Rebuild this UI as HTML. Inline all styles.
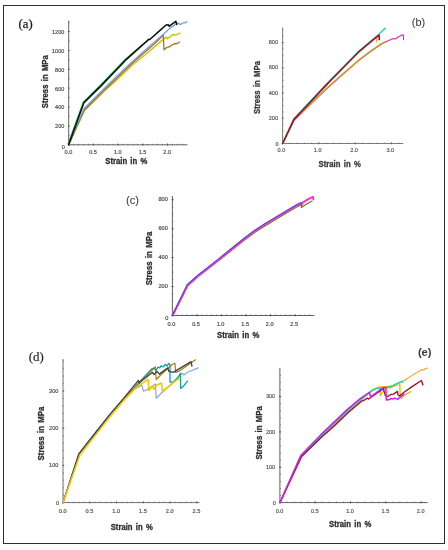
<!DOCTYPE html>
<html><head><meta charset="utf-8"><title>Stress-strain curves</title>
<style>
html,body{margin:0;padding:0;background:#fff;}
body{width:448px;height:550px;overflow:hidden;position:relative;}
.frame{position:absolute;left:3px;top:5px;width:440px;height:537px;border:1px solid #2e2e2e;}
svg{position:absolute;left:0;top:0;}
svg text{font-family:"Liberation Sans", sans-serif;}
svg text.lab{font-family:"Liberation Serif", serif;}
</style></head><body>
<div class="frame"></div>
<svg width="448" height="550" viewBox="0 0 448 550">
<g>
<path d="M68.7 20.7V144.8H187.5" fill="none" stroke="#3a3a3a" stroke-width="0.8"/>
<path d="M68.7 135.36h1.0M68.7 116.48h1.0M68.7 97.6h1.0M68.7 78.72h1.0M68.7 59.84h1.0M68.7 40.96h1.0M68.7 22.08h1.0M67.8 144.8h2.2M67.8 125.92h2.2M67.8 107.04h2.2M67.8 88.16h2.2M67.8 69.28h2.2M67.8 50.4h2.2M67.8 31.52h2.2M73.64 144.8v-1.0M78.58 144.8v-1.0M83.52 144.8v-1.0M88.46 144.8v-1.0M93.4 144.8v-1.0M98.34 144.8v-1.0M103.28 144.8v-1.0M108.22 144.8v-1.0M113.16 144.8v-1.0M118.1 144.8v-1.0M123.04 144.8v-1.0M127.98 144.8v-1.0M132.92 144.8v-1.0M137.86 144.8v-1.0M142.8 144.8v-1.0M147.74 144.8v-1.0M152.68 144.8v-1.0M157.62 144.8v-1.0M162.56 144.8v-1.0M167.5 144.8v-1.0M172.44 144.8v-1.0M177.38 144.8v-1.0M182.32 144.8v-1.0M68.7 145.7v-2.2M93.4 145.7v-2.2M118.1 145.7v-2.2M142.8 145.7v-2.2M167.5 145.7v-2.2" fill="none" stroke="#3a3a3a" stroke-width="0.6"/>
<polyline points="68.7,144.8 84.4,110.8 105,90.4 115,81.5 132.4,65 145.8,54.2 155,46.4 163.4,39.1 166.4,37.1 167.4,38.8 173.4,34.4 175.5,35.1 180,33.1" fill="none" stroke="#c8c400" stroke-width="1.4" stroke-linejoin="round" stroke-linecap="round"/>
<polyline points="68.7,144.8 84.2,110 105,89.2 115,79.7 130,65.2 147,50.2 155,43.4 163.3,35.3 164,49.8 166.7,47.5 170,46.6 171,45.6 172.8,44.5 175.3,43.6 176.5,43.8 178.8,42.5 179.5,42" fill="none" stroke="#a8641a" stroke-width="1.2" stroke-linejoin="round" stroke-linecap="round"/>
<polyline points="68.7,144.8 84,108.5 105,87.6 115,78 128,65.4 147,48.4 155,41.6 163.4,34.3 170.1,28.1 176.8,23.4 178.5,23.2 180,24.6 183.9,22.5 185,22.9 187,21.7" fill="none" stroke="#7aa0dc" stroke-width="1.3" stroke-linejoin="round" stroke-linecap="round"/>
<polyline points="68.1,144.25 83.2,102.35 101.2,84.55 125,59.65 142,44.9" fill="none" stroke="#10a848" stroke-width="1.3" stroke-linejoin="round" stroke-linecap="round"/>
<polyline points="68.7,144.8 83.8,102.9 101.8,85.1 125.6,60.2 148.75,39.3 149.8,39.5 160,30.4 166.1,25 168.4,24.7 169.1,26.3 173,23.4 175.8,21.3 176.8,24.4" fill="none" stroke="#101010" stroke-width="1.55" stroke-linejoin="round" stroke-linecap="round"/>
<g font-size="5.5" fill="#4a4a4a" stroke="#4a4a4a" stroke-width="0.18">
<text x="64.9" y="149.1" text-anchor="end">0</text>
<text x="64.3" y="128.32" text-anchor="end">200</text>
<text x="64.3" y="109.44" text-anchor="end">400</text>
<text x="64.3" y="90.56" text-anchor="end">600</text>
<text x="64.3" y="71.68" text-anchor="end">800</text>
<text x="64.3" y="52.8" text-anchor="end">1000</text>
<text x="64.3" y="33.92" text-anchor="end">1200</text>
<text x="68.4" y="153.8" text-anchor="middle">0.0</text>
<text x="93.1" y="153.8" text-anchor="middle">0.5</text>
<text x="117.8" y="153.8" text-anchor="middle">1.0</text>
<text x="142.5" y="153.8" text-anchor="middle">1.5</text>
<text x="167.2" y="153.8" text-anchor="middle">2.0</text>
</g>
<text transform="translate(126.3 163.8) scale(0.883 1)" text-anchor="middle" font-size="8.7" font-weight="bold" fill="#2c2c2c" stroke="#2c2c2c" stroke-width="0.3" word-spacing="1.3">Strain in %</text>
<text transform="translate(48.2 81.7) rotate(-90) scale(0.888 1)" text-anchor="middle" font-size="8.7" font-weight="bold" fill="#2c2c2c" stroke="#2c2c2c" stroke-width="0.3" word-spacing="1.3">Stress in MPa</text>
</g>
<g>
<path d="M282.6 27.5V143.5H403.2" fill="none" stroke="#5a5a5a" stroke-width="0.8"/>
<path d="M282.6 137.19h1.0M282.6 130.89h1.0M282.6 124.59h1.0M282.6 118.28h1.0M282.6 111.97h1.0M282.6 105.67h1.0M282.6 99.37h1.0M282.6 93.06h1.0M282.6 86.75h1.0M282.6 80.45h1.0M282.6 74.15h1.0M282.6 67.84h1.0M282.6 61.54h1.0M282.6 55.23h1.0M282.6 48.93h1.0M282.6 42.62h1.0M282.6 36.32h1.0M282.6 30.01h1.0M281.7 143.5h2.2M281.7 118.28h2.2M281.7 93.06h2.2M281.7 67.84h2.2M281.7 42.62h2.2M289.86 143.5v-1.0M297.12 143.5v-1.0M304.38 143.5v-1.0M311.64 143.5v-1.0M318.9 143.5v-1.0M326.16 143.5v-1.0M333.42 143.5v-1.0M340.68 143.5v-1.0M347.94 143.5v-1.0M355.2 143.5v-1.0M362.46 143.5v-1.0M369.72 143.5v-1.0M376.98 143.5v-1.0M384.24 143.5v-1.0M391.5 143.5v-1.0M398.76 143.5v-1.0M282.6 144.4v-2.2M318.9 144.4v-2.2M355.2 144.4v-2.2M391.5 144.4v-2.2" fill="none" stroke="#5a5a5a" stroke-width="0.6"/>
<polyline points="282.6,143.5 294.2,120.1 304.9,109.9 325.2,90 336.6,79.9 355.2,63.7 360.2,59.3 372.2,50.3 381.2,44.2 384.95,42.2 388.5,40.6 393.5,38.4 395.4,39.1 397.25,37.5 402.25,34.7 403.4,35 403.5,39.7" fill="none" stroke="#f020b0" stroke-width="1.1" stroke-linejoin="round" stroke-linecap="round"/>
<polyline points="282.6,143.5 294,119.8 304.7,109.6 325,89.7 336.4,79.6 355,63.4 360,59 372,50 381,43.9 384.75,41.9" fill="none" stroke="#c8a418" stroke-width="1.4" stroke-linejoin="round" stroke-linecap="round"/>
<polyline points="282.6,143.5 293.8,119 302.6,109.6 324.8,86 330.9,79.6 354.8,55.4 359.8,50.4 369.8,42 379.1,34 385.1,28.1" fill="none" stroke="#20d8d0" stroke-width="1.6" stroke-linejoin="round" stroke-linecap="round"/>
<polyline points="282.6,143.5 294,119.4 302.8,110 325,86.4 331.1,80 355,55.8 360,50.8 370,42.4 376.6,37.5 376.6,42.1" fill="none" stroke="#f0a030" stroke-width="1.0" stroke-linejoin="round" stroke-linecap="round"/>
<polyline points="282.6,143.5 294,119.4 302.8,110 325,86.4 331.1,80 355,55.8 360,50.8 370,42.4 379.1,35 379.2,39.7" fill="none" stroke="#a01018" stroke-width="1.6" stroke-linejoin="round" stroke-linecap="round"/>
<g font-size="5.5" fill="#555" stroke="#555" stroke-width="0.18">
<text x="278.6" y="145.5" text-anchor="end">0</text>
<text x="278" y="119.88" text-anchor="end">200</text>
<text x="278" y="94.66" text-anchor="end">400</text>
<text x="278" y="69.44" text-anchor="end">600</text>
<text x="278" y="44.22" text-anchor="end">800</text>
<text x="281.4" y="152.2" text-anchor="middle">0.0</text>
<text x="317.7" y="152.2" text-anchor="middle">1.0</text>
<text x="354" y="152.2" text-anchor="middle">2.0</text>
<text x="390.3" y="152.2" text-anchor="middle">3.0</text>
</g>
<text transform="translate(339.7 166.5) scale(0.887 1)" text-anchor="middle" font-size="8.7" font-weight="bold" fill="#383838" stroke="#383838" stroke-width="0.3" word-spacing="1.3">Strain in %</text>
<text transform="translate(259.5 87.5) rotate(-90) scale(0.888 1)" text-anchor="middle" font-size="8.7" font-weight="bold" fill="#383838" stroke="#383838" stroke-width="0.3" word-spacing="1.3">Stress in MPa</text>
</g>
<g>
<path d="M172.4 196V315.5H314.5" fill="none" stroke="#3a3a3a" stroke-width="0.8"/>
<path d="M172.4 308.26h1.0M172.4 301.03h1.0M172.4 293.8h1.0M172.4 286.56h1.0M172.4 279.32h1.0M172.4 272.09h1.0M172.4 264.86h1.0M172.4 257.62h1.0M172.4 250.38h1.0M172.4 243.15h1.0M172.4 235.92h1.0M172.4 228.68h1.0M172.4 221.44h1.0M172.4 214.21h1.0M172.4 206.98h1.0M172.4 199.74h1.0M171.5 315.5h2.2M171.5 286.56h2.2M171.5 257.62h2.2M171.5 228.68h2.2M171.5 199.74h2.2M177.31 315.5v-1.0M182.22 315.5v-1.0M187.13 315.5v-1.0M192.04 315.5v-1.0M196.95 315.5v-1.0M201.86 315.5v-1.0M206.77 315.5v-1.0M211.68 315.5v-1.0M216.59 315.5v-1.0M221.5 315.5v-1.0M226.41 315.5v-1.0M231.32 315.5v-1.0M236.23 315.5v-1.0M241.14 315.5v-1.0M246.05 315.5v-1.0M250.96 315.5v-1.0M255.87 315.5v-1.0M260.78 315.5v-1.0M265.69 315.5v-1.0M270.6 315.5v-1.0M275.51 315.5v-1.0M280.42 315.5v-1.0M285.33 315.5v-1.0M290.24 315.5v-1.0M295.15 315.5v-1.0M300.06 315.5v-1.0M304.97 315.5v-1.0M309.88 315.5v-1.0M172.4 316.4v-2.2M196.95 316.4v-2.2M221.5 316.4v-2.2M246.05 316.4v-2.2M270.6 316.4v-2.2M295.15 316.4v-2.2" fill="none" stroke="#3a3a3a" stroke-width="0.6"/>
<polyline points="172.7,315.5 187.7,285.5 198.4,276.1 208.3,268.6 220.3,259.2 235.3,247.3 245.3,239.4 255.3,232.1 265.3,225.8 275.3,219.8 285.3,213.8 298.3,206.1 301.7,204.6 301.4,207.4 306,204.6 312.1,201.1" fill="none" stroke="#5c8420" stroke-width="1.2" stroke-linejoin="round" stroke-linecap="round"/>
<polyline points="172.4,315.5 187.5,285.6 198.2,276 208.1,268.3 220.1,258.7 235.1,246.6 245.1,238.5 255.1,231 265.1,224.5 275.1,218.5 285.1,212.5 298.1,204.8 301.5,203.3 306.9,199.8 312.7,196.9 313.4,199.2" fill="none" stroke="#ff30d8" stroke-width="2.0" stroke-linejoin="round" stroke-linecap="round"/>
<polyline points="172.4,315.5 187.6,285.8 198.3,276.2 208.2,268.5 220.2,258.9 235.2,246.8 245.2,238.7 255.2,231.2 265.2,224.7 275.2,218.7 285.2,212.7 298.2,205 301.6,203.5 302.8,204.2 302.8,206.4" fill="none" stroke="#f06030" stroke-width="0.9" stroke-linejoin="round" stroke-linecap="round"/>
<polyline points="172.4,315.5 187.1,284.8 197.8,275.2 207.7,267.5 219.7,257.9 234.7,245.8 244.7,237.7 254.7,230.2 264.7,223.7 274.7,217.7 284.7,211.7 297.7,204 301.1,202.5 301.3,204.8" fill="none" stroke="#5a40ff" stroke-width="1.2" stroke-linejoin="round" stroke-linecap="round"/>
<g font-size="5.6" fill="#4a4a4a" stroke="#4a4a4a" stroke-width="0.18">
<text x="168.4" y="320" text-anchor="end">0</text>
<text x="167.8" y="287.96" text-anchor="end">200</text>
<text x="167.8" y="259.02" text-anchor="end">400</text>
<text x="167.8" y="230.08" text-anchor="end">600</text>
<text x="167.8" y="201.14" text-anchor="end">800</text>
<text x="171.5" y="325.9" text-anchor="middle">0.0</text>
<text x="196.05" y="325.9" text-anchor="middle">0.5</text>
<text x="220.6" y="325.9" text-anchor="middle">1.0</text>
<text x="245.15" y="325.9" text-anchor="middle">1.5</text>
<text x="269.7" y="325.9" text-anchor="middle">2.0</text>
<text x="294.25" y="325.9" text-anchor="middle">2.5</text>
</g>
<text transform="translate(238.2 338.2) scale(0.887 1)" text-anchor="middle" font-size="8.7" font-weight="bold" fill="#2c2c2c" stroke="#2c2c2c" stroke-width="0.3" word-spacing="1.3">Strain in %</text>
<text transform="translate(152.2 258.5) rotate(-90) scale(0.897 1)" text-anchor="middle" font-size="8.7" font-weight="bold" fill="#2c2c2c" stroke="#2c2c2c" stroke-width="0.3" word-spacing="1.3">Stress in MPa</text>
</g>
<g>
<path d="M63 359V502.6H199.5" fill="none" stroke="#4a4d55" stroke-width="0.8"/>
<path d="M63 495.16h1.0M63 487.72h1.0M63 480.28h1.0M63 472.84h1.0M63 465.4h1.0M63 457.96h1.0M63 450.52h1.0M63 443.08h1.0M63 435.64h1.0M63 428.2h1.0M63 420.76h1.0M63 413.32h1.0M63 405.88h1.0M63 398.44h1.0M63 391h1.0M63 383.56h1.0M63 376.12h1.0M63 368.68h1.0M63 361.24h1.0M62.1 502.6h2.2M62.1 465.4h2.2M62.1 428.2h2.2M62.1 391h2.2M68.35 502.6v-1.0M73.7 502.6v-1.0M79.05 502.6v-1.0M84.4 502.6v-1.0M89.75 502.6v-1.0M95.1 502.6v-1.0M100.45 502.6v-1.0M105.8 502.6v-1.0M111.15 502.6v-1.0M116.5 502.6v-1.0M121.85 502.6v-1.0M127.2 502.6v-1.0M132.55 502.6v-1.0M137.9 502.6v-1.0M143.25 502.6v-1.0M148.6 502.6v-1.0M153.95 502.6v-1.0M159.3 502.6v-1.0M164.65 502.6v-1.0M170 502.6v-1.0M175.35 502.6v-1.0M180.7 502.6v-1.0M186.05 502.6v-1.0M191.4 502.6v-1.0M196.75 502.6v-1.0M63 503.5v-2.2M89.75 503.5v-2.2M116.5 503.5v-2.2M143.25 503.5v-2.2M170 503.5v-2.2M196.75 503.5v-2.2" fill="none" stroke="#4a4d55" stroke-width="0.6"/>
<polyline points="63,502.6 79.5,454.7 95.3,434.5 110.6,415.1 124.3,399.1 133.8,389.8 141.9,385.3 143.5,391.2 147.3,389.6 155.36,383.93 156.25,398.21 160.71,393.75 169.64,385.71 178.57,376.79 182.14,373.21 183.93,375 187.5,372.32 198.21,367.86" fill="none" stroke="#88a8d8" stroke-width="1.2" stroke-linejoin="round" stroke-linecap="round"/>
<polyline points="63,502.6 79.2,454.4 95,434.2 110.3,414.8 124,398.8 151.79,368.75 154.46,367.86 155.71,371.07 158.04,366.96 159.82,367.86 161.25,365.71 163.39,366.96 165.18,364.29 166.96,366.07 168.75,363.39 170,365.18 170,382.14 173.21,382.14 178.57,376.79 180.36,373.21 180.71,388.39 183.93,385.71 186.61,382.14 187.5,381.25" fill="none" stroke="#10a0a0" stroke-width="1.3" stroke-linejoin="round" stroke-linecap="round"/>
<polyline points="63,502.6 79,454.2 94.8,434 110.1,414.6 123.8,398.6 155.36,366.96 156.25,379.46 160.71,375 172.32,364.29 175,363.39 175.54,372.32 178.57,371.43 195.54,359.82" fill="none" stroke="#b07818" stroke-width="1.2" stroke-linejoin="round" stroke-linecap="round"/>
<polyline points="63,502.6 78.75,453.95 94.55,433.75 109.85,414.35 123.55,398.35 138.39,380.36 139.29,383.04 141.07,381.25 152.68,372.32 153.93,374.64 157.14,371.43 159.29,374.11 167.86,367.86 168.75,371.43 173.21,372.32 191.07,361.61 191.96,366.07" fill="none" stroke="#404040" stroke-width="1.3" stroke-linejoin="round" stroke-linecap="round"/>
<polyline points="63,502.6 79.85,455.05 95.65,434.85 110.95,415.45 124.65,399.45 135.2,388.4 148,379.2 148.9,390.5 152.68,385.71 153.57,389.29 157.14,384.82 161.61,383.04 162.14,391.07 166.07,388.39 178.57,378.57 179.46,379.46" fill="none" stroke="#f0c800" stroke-width="1.5" stroke-linejoin="round" stroke-linecap="round"/>
<g font-size="5.6" fill="#505050" stroke="#505050" stroke-width="0.18">
<text x="59" y="505.1" text-anchor="end">0</text>
<text x="58.4" y="467.1" text-anchor="end">100</text>
<text x="58.4" y="429.9" text-anchor="end">200</text>
<text x="58.4" y="392.7" text-anchor="end">300</text>
<text x="62.7" y="512.6" text-anchor="middle">0.0</text>
<text x="89.45" y="512.6" text-anchor="middle">0.5</text>
<text x="116.2" y="512.6" text-anchor="middle">1.0</text>
<text x="142.95" y="512.6" text-anchor="middle">1.5</text>
<text x="169.7" y="512.6" text-anchor="middle">2.0</text>
<text x="196.45" y="512.6" text-anchor="middle">2.5</text>
</g>
<text transform="translate(131.8 530) scale(0.887 1)" text-anchor="middle" font-size="8.7" font-weight="bold" fill="#2c2c2c" stroke="#2c2c2c" stroke-width="0.3" word-spacing="1.3">Strain in %</text>
<text transform="translate(43.9 433.5) rotate(-90) scale(0.904 1)" text-anchor="middle" font-size="8.7" font-weight="bold" fill="#2c2c2c" stroke="#2c2c2c" stroke-width="0.3" word-spacing="1.3">Stress in MPa</text>
</g>
<g>
<path d="M279.9 368V502.6H427.7" fill="none" stroke="#3a3a3a" stroke-width="0.8"/>
<path d="M279.9 495.53h1.0M279.9 488.46h1.0M279.9 481.39h1.0M279.9 474.32h1.0M279.9 467.25h1.0M279.9 460.18h1.0M279.9 453.11h1.0M279.9 446.04h1.0M279.9 438.97h1.0M279.9 431.9h1.0M279.9 424.83h1.0M279.9 417.76h1.0M279.9 410.69h1.0M279.9 403.62h1.0M279.9 396.55h1.0M279.9 389.48h1.0M279.9 382.41h1.0M279.9 375.34h1.0M279 502.6h2.2M279 467.25h2.2M279 431.9h2.2M279 396.55h2.2M286.96 502.6v-1.0M294.02 502.6v-1.0M301.08 502.6v-1.0M308.14 502.6v-1.0M315.2 502.6v-1.0M322.26 502.6v-1.0M329.32 502.6v-1.0M336.38 502.6v-1.0M343.44 502.6v-1.0M350.5 502.6v-1.0M357.56 502.6v-1.0M364.62 502.6v-1.0M371.68 502.6v-1.0M378.74 502.6v-1.0M385.8 502.6v-1.0M392.86 502.6v-1.0M399.92 502.6v-1.0M406.98 502.6v-1.0M414.04 502.6v-1.0M421.1 502.6v-1.0M279.9 503.5v-2.2M315.2 503.5v-2.2M350.5 503.5v-2.2M385.8 503.5v-2.2M421.1 503.5v-2.2" fill="none" stroke="#3a3a3a" stroke-width="0.6"/>
<polyline points="279.9,502.6 300.83,455.74 320.43,435.62 331.7,424.9 347.1,410.2 360.5,399 369.8,392 372.9,389.6 377.4,387.4 386,386.6 395.25,386 399.7,382.5 404,380.7 412,375.4 421.4,369.9 424,369.6 426.9,368" fill="none" stroke="#ff9810" stroke-width="1.1" stroke-linejoin="round" stroke-linecap="round"/>
<polyline points="279.9,502.6 301.33,456.23 321.25,436.45 332.8,426 348.2,411.3 361.6,400.1 372,390.1 380.1,386.9 380.5,395.9 381.9,393.2 384.1,389.6 387.2,387.8 390.8,387.8 399.7,382.9 400.2,396.8 401.5,398.6 404.2,395.1 410.9,391.6" fill="none" stroke="#c8c820" stroke-width="1.4" stroke-linejoin="round" stroke-linecap="round"/>
<polyline points="279.9,502.6 301.1,456 320.88,436.07 332.3,425.5 347.7,410.8 361.1,399.6 371,391.4 376,388.6 381.9,388.2 387.2,387.4 393,385.4 398.8,382.5 402.4,381.1 402.8,382.6" fill="none" stroke="#20d0b8" stroke-width="1.3" stroke-linejoin="round" stroke-linecap="round"/>
<polyline points="279.9,502.6 301.6,456.55 321.7,436.97 333.4,426.7 348.8,412 362.2,400.8 364,400.3 367.6,398.1 368.5,399 372.9,395.9 381.9,389.6 383.2,388.3 385.4,395.9 388.1,396.3 390.8,394.5 393.5,394.1 397.5,391.4 397.9,395 399.7,395.9 404,392.3 412,386.6 421.4,380.5 422.9,385" fill="none" stroke="#a01020" stroke-width="1.3" stroke-linejoin="round" stroke-linecap="round"/>
<polyline points="279.9,502.6 300.7,455.6 320.2,435.4 331.4,424.6 346.8,409.9 360.2,398.7 369.4,392.3 370.7,397.2 372,395.9 382.75,387.8 385,387.4 385.9,387.8 386.3,399.9 389.9,399.4 390.8,398.5 393.5,399 394.8,398.1 397.5,399.4 398.8,398.1 404,394.1" fill="none" stroke="#d020f0" stroke-width="1.5" stroke-linejoin="round" stroke-linecap="round"/>
<g font-size="5.5" fill="#555" stroke="#555" stroke-width="0.18">
<text x="275.8" y="505" text-anchor="end">0</text>
<text x="275.2" y="469.19" text-anchor="end">100</text>
<text x="275.2" y="433.84" text-anchor="end">200</text>
<text x="275.2" y="398.49" text-anchor="end">300</text>
<text x="279.5" y="512.9" text-anchor="middle">0.0</text>
<text x="314.8" y="512.9" text-anchor="middle">0.5</text>
<text x="350.1" y="512.9" text-anchor="middle">1.0</text>
<text x="385.4" y="512.9" text-anchor="middle">1.5</text>
<text x="420.7" y="512.9" text-anchor="middle">2.0</text>
</g>
<text transform="translate(350.2 527.1) scale(0.887 1)" text-anchor="middle" font-size="8.7" font-weight="bold" fill="#2c2c2c" stroke="#2c2c2c" stroke-width="0.3" word-spacing="1.3">Strain in %</text>
<text transform="translate(262.2 432.9) rotate(-90) scale(0.897 1)" text-anchor="middle" font-size="8.7" font-weight="bold" fill="#2c2c2c" stroke="#2c2c2c" stroke-width="0.3" word-spacing="1.3">Stress in MPa</text>
</g>
<text x="18.6" y="28.1" class="lab" font-size="12.6" font-weight="normal" fill="#1a1a1a" stroke="#1a1a1a" stroke-width="0.25">(a)</text>
<text x="411.8" y="26.4" class="" font-size="11" font-weight="normal" fill="#333" stroke="#333" stroke-width="0">(b)</text>
<text x="125.9" y="203.8" class="" font-size="11.3" font-weight="normal" fill="#333" stroke="#333" stroke-width="0">(c)</text>
<text x="28.8" y="361" class="lab" font-size="12.9" font-weight="normal" fill="#222" stroke="#222" stroke-width="0.15">(d)</text>
<text x="417.9" y="356.4" class="" font-size="11.2" font-weight="bold" fill="#3a3a3a" stroke="#3a3a3a" stroke-width="0">(e)</text>
</svg>
</body></html>
